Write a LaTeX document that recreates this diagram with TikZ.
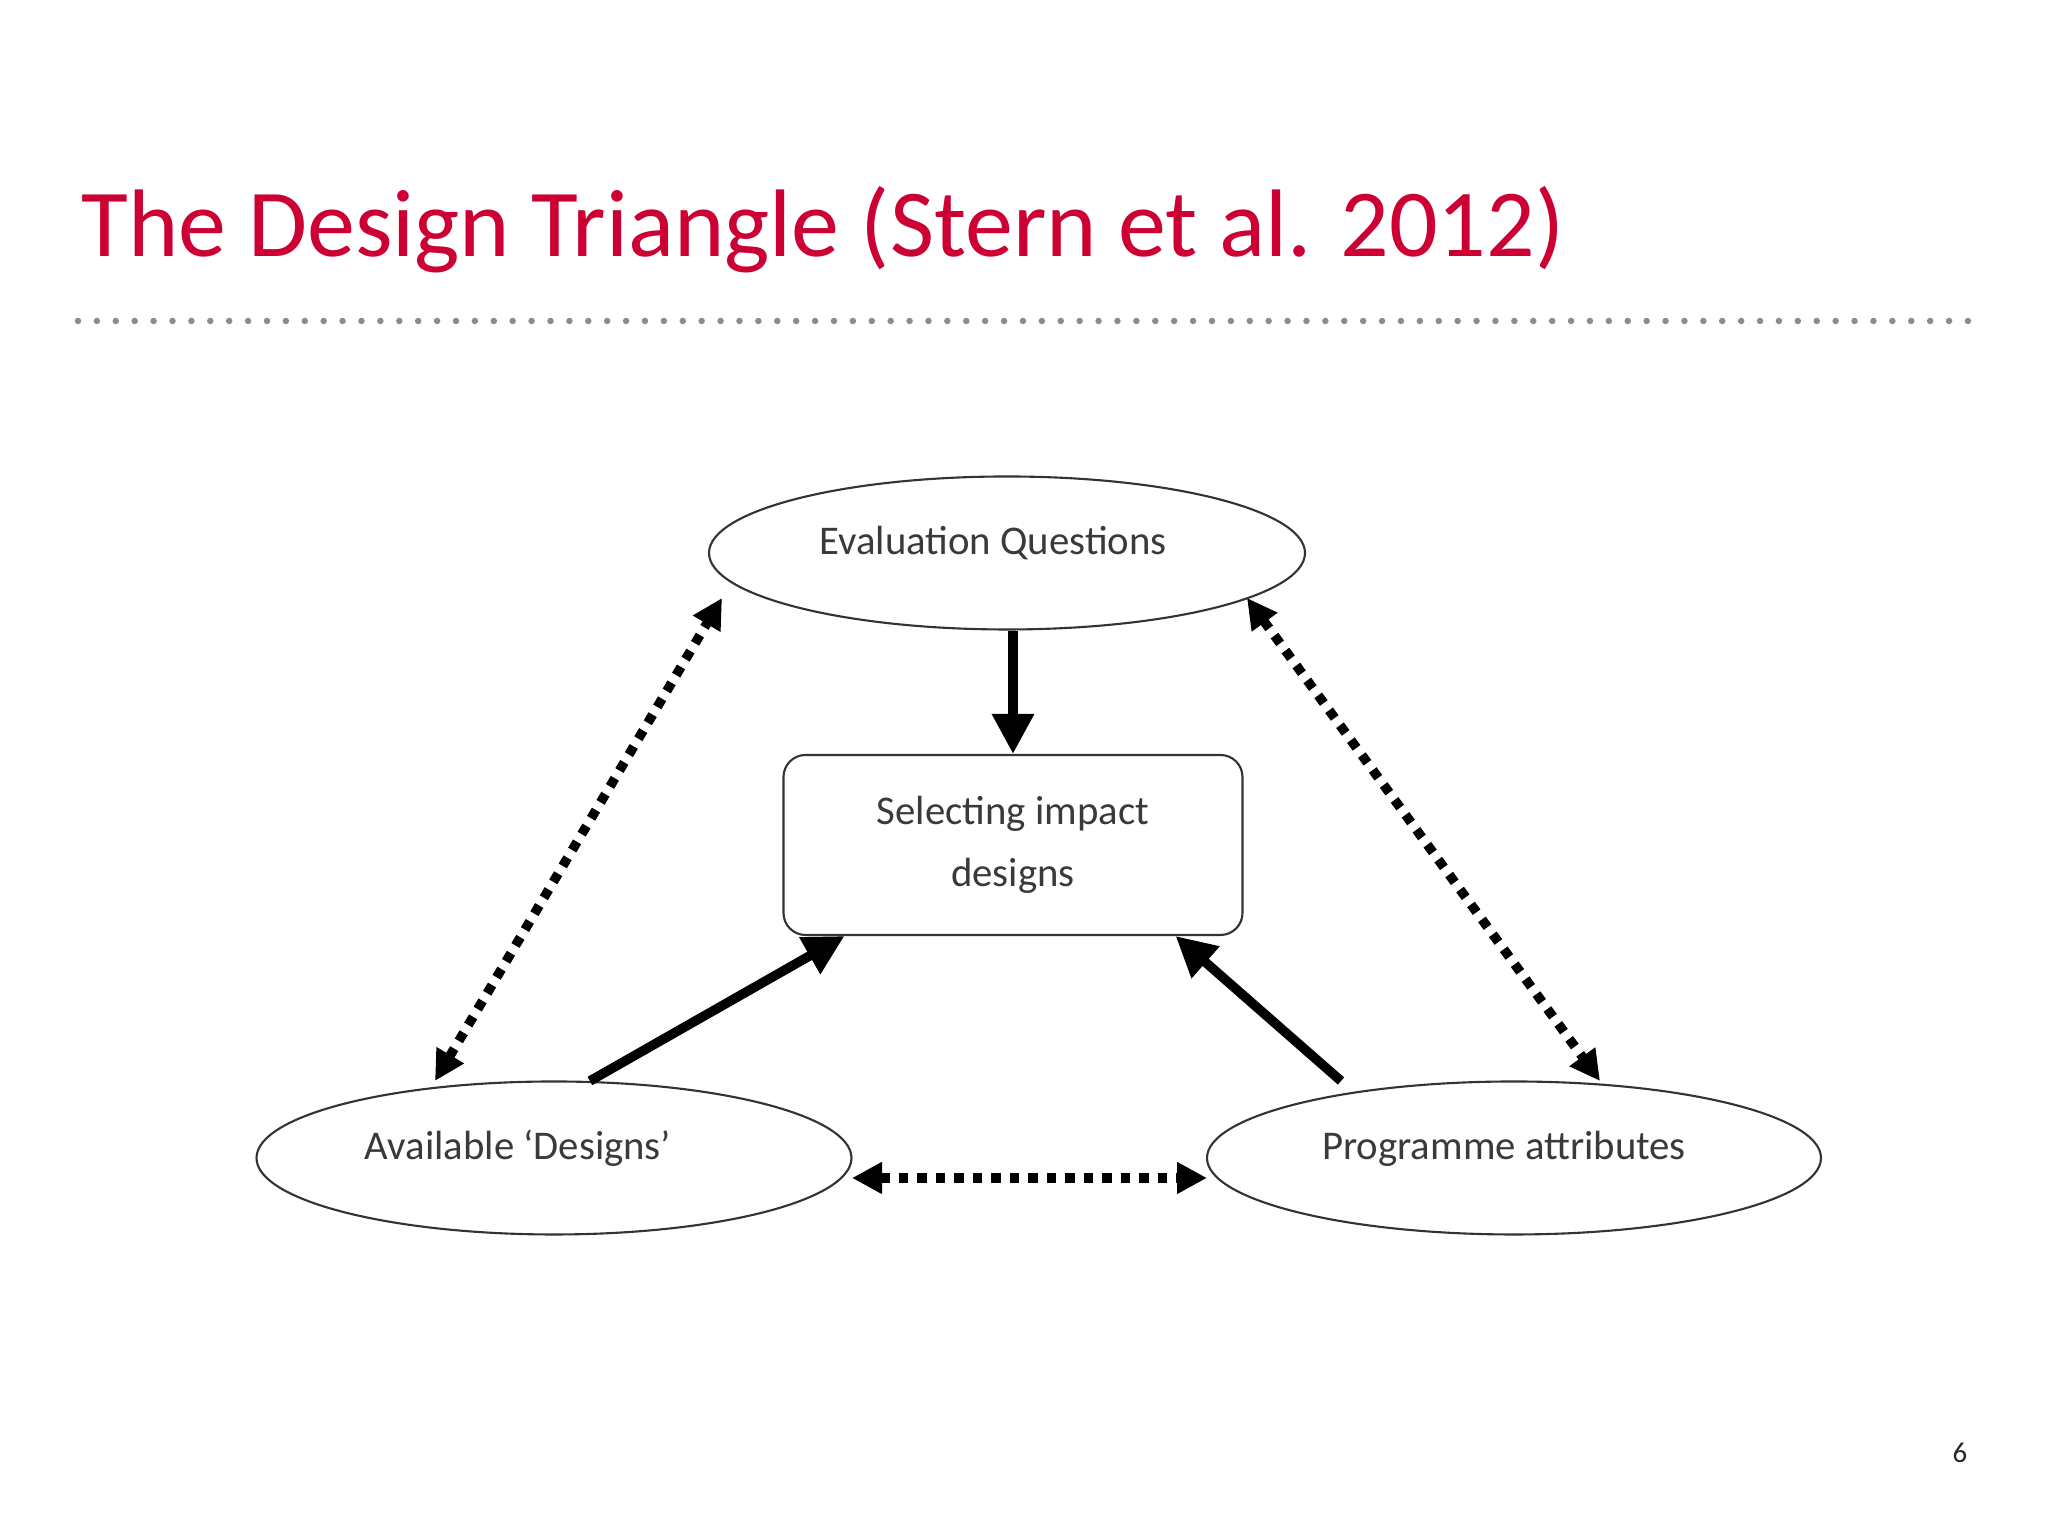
\documentclass[tikz,border=0pt]{standalone}
\usepackage{fontspec}
\setmainfont{Carlito}
\usetikzlibrary{calc}
\usetikzlibrary{positioning}
\usetikzlibrary{shapes.geometric}
\usetikzlibrary{arrows.meta}
\definecolor{titlered}{RGB}{204,0,51}
\definecolor{rulegrey}{RGB}{140,140,140}
\definecolor{textgrey}{RGB}{58,58,58}

\begin{document}
\begin{tikzpicture}[
      oval/.style={ellipse, draw=black!80, line width=0.6pt, inner sep=0pt, minimum height=1.53cm,
        text=textgrey, font=\fontsize{11.6}{14}\selectfont, text height=0.28cm, text depth=0.24cm},
      roundbox/.style={rectangle, rounded corners=0.22cm, draw=black!80, line width=0.6pt,
        minimum width=4.59cm, minimum height=1.80cm, align=center, text=textgrey,
        font=\fontsize{11.6}{17.6}\selectfont},
      solidarrow/.style={line width=0.095cm, -{Triangle[length=0.40cm, width=0.40cm]}},
      dotarrow/.style={line width=0.095cm, dash pattern=on 0.095cm off 0.09cm,
        {Triangle[length=0.30cm, width=0.30cm]}-{Triangle[length=0.30cm, width=0.30cm]}}
    ]
      \useasboundingbox[fill=white] (0, 0) rectangle (20.48, 15.36);

      \coordinate (rule-l) at (0.78, 12.15);
      \coordinate (rule-r) at (19.70, 12.15);

      \node[anchor=base west, inner sep=0pt, text=titlered, font=\fontsize{27.3}{32}\selectfont] (title) at (0.81, 12.79) {The Design Triangle (Stern et al. 2012)};
      \draw[rulegrey, line width=0.065cm, line cap=round, dash pattern=on 0pt off 0.189cm] (rule-l) -- (rule-r);

      \node[oval, minimum width=5.96cm] (eq) at (10.07, 9.83) {Evaluation Questions\hspace*{0.28cm}};
      \node[roundbox] (sel) at (10.13, 6.91) {Selecting impact\\designs};
      \node[oval, minimum width=5.95cm] (ad) at (5.54, 3.78) {Available ‘Designs’\hspace*{0.72cm}};
      \node[oval, minimum width=6.14cm] (pa) at (15.14, 3.78) {Programme attributes\hspace*{0.2cm}};

      \coordinate (eq-l) at (7.22, 9.38);
      \coordinate (eq-r) at (12.47, 9.38);
      \coordinate (ad-t) at (4.35, 4.55);
      \coordinate (ad-r) at (8.52, 3.58);
      \coordinate (pa-t) at (16.00, 4.55);
      \coordinate (pa-l) at (12.07, 3.58);
      \coordinate (pa-tail) at (13.41, 4.55);

      \draw[solidarrow] (sel.north |- eq.south) -- (sel.north);
      \draw[solidarrow] (ad.65) -- ([xshift=0.62cm]sel.south west);
      \draw[solidarrow] (pa-tail) -- ([xshift=-0.68cm]sel.south east);

      \draw[dotarrow] (ad-t) -- (eq-l);
      \draw[dotarrow] (eq-r) -- (pa-t);
      \draw[dotarrow] (ad-r) -- (pa-l);

      \node[font=\fontsize{8.2}{10}\selectfont, text=black!85] (pagenum) at (19.60, 0.83) {6};
    \end{tikzpicture}
\end{document}
